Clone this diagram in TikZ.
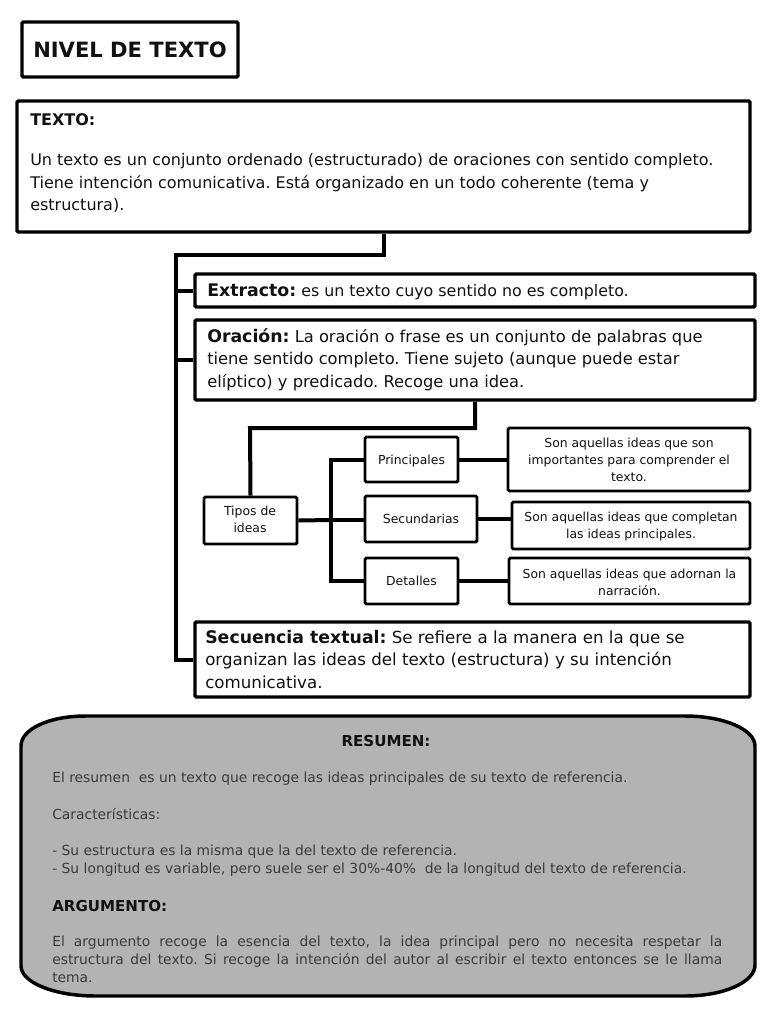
\documentclass[tikz,border=0pt]{standalone}
\usepackage{fontspec}
\setmainfont{DejaVu Sans}
\usetikzlibrary{fit}
\definecolor{ink}{HTML}{111111}
\definecolor{grayfill}{HTML}{B3B3B3}
\definecolor{graytext}{HTML}{3A3A3A}
\frenchspacing
\newcommand\titlefont{\fontsize{15.8}{21}\bfseries\selectfont}
\newcommand\bodyfont{\fontsize{12}{16.9}\selectfont}
\newcommand\bodyfontb{\fontsize{11.9}{16.9}\selectfont}
\newcommand\bodyfontc{\fontsize{12.2}{16.9}\selectfont}
\newcommand\bodyfontd{\fontsize{12.5}{16.9}\selectfont}
\newcommand\headfont{\fontsize{13}{16.9}\bfseries\selectfont}
\newcommand\textohead{\fontsize{12}{16.9}\bfseries\selectfont}
\newcommand\smallfont{\fontsize{9.3}{12.75}\selectfont}
\newcommand\resfont{\fontsize{10.4}{13.6}\selectfont}
\newcommand\reshead{\fontsize{11.3}{13.6}\bfseries\selectfont}
\tikzset{
  bx/.style={draw=black, line width=2.6pt, rounded corners=1pt, inner sep=0pt, fill=white},
  sbx/.style={draw=black, line width=2.2pt, rounded corners=1pt, inner sep=0pt, fill=white},
  conn/.style={draw=black, line width=3pt},
  txt/.style={anchor=base west, inner sep=0pt, text=ink},
  ctxt/.style={anchor=base, inner sep=0pt, text=ink, font=\smallfont},
  gtxt/.style={anchor=base west, inner sep=0pt, text=graytext, font=\resfont},
}
\begin{document}
\begin{tikzpicture}[x=0.75pt,y=-0.75pt]
\useasboundingbox (0,0) rectangle (768,1024);
\coordinate (j1) at (176,255);
\coordinate (j2) at (250,428);
\coordinate (j3) at (331,520);
% boxes
\node[bx, fit={(22,22)(238,77)}] (title) {};
\node[bx, fit={(17,101)(750,232)}] (texto) {};
\node[bx, fit={(195,274)(755,307)}] (extracto) {};
\node[bx, fit={(195,320)(755,400)}] (oracion) {};
\node[bx, fit={(195,622)(750,697)}] (secuencia) {};
\node[sbx, fit={(204,497)(297,544)}] (tipos) {};
\node[sbx, fit={(365,437)(458,482)}] (princ) {};
\node[sbx, fit={(365,496)(477,542)}] (sec) {};
\node[sbx, fit={(365,558)(458,604)}] (det) {};
\node[sbx, fit={(508,428)(750,491)}] (d1) {};
\node[sbx, fit={(512,502)(750,549)}] (d2) {};
\node[sbx, fit={(509,558)(750,604)}] (d3) {};
% connector lines
\draw[conn] (texto.south) |- (j1) |- (secuencia.west);
\draw[conn] (extracto.west -| j1) -- (extracto.west);
\draw[conn] (oracion.west -| j1) -- (oracion.west);
\draw[conn] (oracion.south) |- (j2) -- (tipos.north);
\draw[conn] (tipos.east) -- (j3);
\draw[conn] (j3) |- (princ.west);
\draw[conn] (j3) |- (det.west);
\draw[conn] (j3) -- (j3 -| sec.west);
\draw[conn] (princ.east) -- (d1.west);
\draw[conn] (sec.east) -- (sec.east -| d2.west);
\draw[conn] (det.east) -- (det.east -| d3.west);
% small box texts
\node[ctxt] (tipost) at (250,515) {\begin{tabular}[t]{@{}c@{}}Tipos de\\ ideas\end{tabular}};
\node[ctxt] (princt) at (411.5,464) {Principales};
\node[ctxt] (sect) at (421,523) {Secundarias};
\node[ctxt] (dett) at (411.5,585) {Detalles};
\node[ctxt] (d1t) at (629,447) {\begin{tabular}[t]{@{}c@{}}Son aquellas ideas que son\\ importantes para comprender el\\ texto.\end{tabular}};
\node[ctxt] (d2t) at (631,521) {\begin{tabular}[t]{@{}c@{}}Son aquellas ideas que completan\\ las ideas principales.\end{tabular}};
\node[ctxt] (d3t) at (629.5,578) {\begin{tabular}[t]{@{}c@{}}Son aquellas ideas que adornan la\\ narración.\end{tabular}};
% big box texts
\node[txt, font=\titlefont] (titlet) at (33,58) {NIVEL DE TEXTO};
\node[txt, font=\textohead] (textoh) at (30,125) {TEXTO:};
\node[txt, font=\bodyfont] (textob) at (30,165.5) {\begin{tabular}[t]{@{}l@{}}Un texto es un conjunto ordenado (estructurado) de oraciones con sentido completo.\\ Tiene intención comunicativa. Está organizado en un todo coherente (tema y\\ estructura).\end{tabular}};
\node[txt, font=\bodyfontb] (extractot) at (207,296) {{\headfont Extracto:} es un texto cuyo sentido no es completo.};
\node[txt, font=\bodyfontc] (oraciont) at (207,342) {\begin{tabular}[t]{@{}l@{}}{\headfont Oración:} La oración o frase es un conjunto de palabras que\\ tiene sentido completo. Tiene sujeto (aunque puede estar\\ elíptico) y predicado. Recoge una idea.\end{tabular}};
\node[txt, font=\bodyfontd] (secuenciat) at (205,643) {\begin{tabular}[t]{@{}l@{}}{\headfont Secuencia textual:} Se refiere a la manera en la que se\\ organizan las ideas del texto (estructura) y su intención\\ comunicativa.\end{tabular}};
% resumen shape
\draw[line width=2.6pt, fill=grayfill]
  (21,746) .. controls (21,729.5) and (48,716) .. (86,716)
  -- (685,716) .. controls (724,716) and (755,729.5) .. (755,746)
  -- (755,965) .. controls (755,982) and (724,996) .. (685,996)
  -- (96,996) .. controls (53,996) and (21,982) .. (21,966) -- cycle;
\node[anchor=base, inner sep=0pt, text=ink, font=\reshead] (resumenh) at (386,746) {RESUMEN:};
\node[gtxt] (res1) at (52,782) {El resumen\ \ es un texto que recoge las ideas principales de su texto de referencia.};
\node[gtxt] (res2) at (52,819) {Características:};
\node[gtxt] (res3) at (52,855) {\begin{tabular}[t]{@{}l@{}}- Su estructura es la misma que la del texto de referencia.\\ - Su longitud es variable, pero suele ser el 30\%-40\%\ \ de la longitud del texto de referencia.\end{tabular}};
\node[anchor=base west, inner sep=0pt, text=ink, font=\reshead] (argh) at (52,911) {ARGUMENTO:};
\node[gtxt] (arg) at (52,946) {\begin{tabular}[t]{@{}l@{}}\makebox[670\dimexpr 0.75pt\relax][s]{El argumento recoge la esencia del texto, la idea principal pero no necesita respetar la}\\ \makebox[670\dimexpr 0.75pt\relax][s]{estructura del texto. Si recoge la intención del autor al escribir el texto entonces se le llama}\\ tema.\end{tabular}};
\end{tikzpicture}
\end{document}
